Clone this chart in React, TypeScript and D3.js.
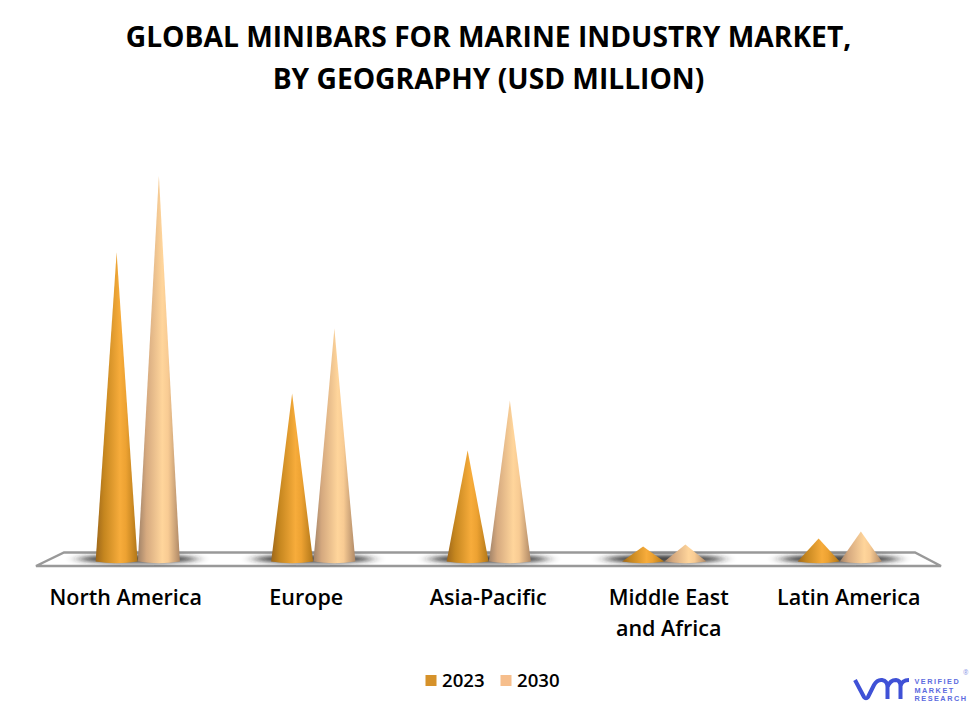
import React from "react";
import * as d3 from "d3";

const categories = ["North America", "Europe", "Asia-Pacific", "Middle East|and Africa", "Latin America"];
const years = ["2023", "2030"];
const values2023 = [309, 168, 111, 15, 23];
const values2030 = [386, 233, 161, 17, 30];
const legendColors = ["#D6922A", "#F6BE8C"];
const gradientStops = [
  ["#9C661A", "#C5861F", "#F7AC3B", "#EDA232", "#B07618"],
  ["#A08268", "#D5A97F", "#FFD59B", "#F8CB93", "#AE8866"],
];
const titleLines = ["GLOBAL MINIBARS FOR MARINE INDUSTRY MARKET,", "BY GEOGRAPHY (USD MILLION)"];
const logoLines = ["VERIFIED", "MARKET", "RESEARCH"];
const labelShift = [-12, -7, -0.5, 4.5, 9];

const W = 977;
const H = 713;
const font = "'Open Sans', 'Noto Sans', sans-serif";

export default function App() {
  const x0 = d3.scaleBand<string>().domain(categories).range([50, 927.5]);
  const x1 = d3.scaleBand<string>().domain(years).range([0, 84.5]);
  const y = d3.scaleLinear().domain([0, 400]).range([561.5, 161.5]);
  const series = [values2023, values2030];
  const halfW = 21;
  const step = x0.step();

  return (
    <svg
      width={W}
      height={H}
      viewBox={`0 0 ${W} ${H}`}
      style={{ position: "absolute", left: 0, top: 0, background: "#fff" }}
    >
      <defs>
        {series.map((_, s) => (
          <linearGradient key={s} id={`cone${s}`} x1="0" x2="1" y1="0" y2="0">
            {gradientStops[s].map((c, i) => (
              <stop key={i} offset={[0, 0.2, 0.58, 0.72, 1][i]} stopColor={c} />
            ))}
          </linearGradient>
        ))}
        <filter id="shadow" x="-30%" y="-200%" width="160%" height="500%">
          <feGaussianBlur stdDeviation="7 2.2" />
        </filter>
      </defs>

      {titleLines.map((t, i) => (
        <text
          key={i}
          x={488.5}
          y={47 + i * 41.5}
          textAnchor="middle"
          fontFamily={font}
          fontWeight={700}
          fontSize={28.2}
          fill="#000"
        >
          {t}
        </text>
      ))}

      <path
        d="M36 566 L64 552.5 L915 552.5 L941 566 Z"
        fill="#fff"
        stroke="#999"
        strokeWidth={2.4}
        strokeLinejoin="miter"
      />

      {categories.map((c) => {
        const gx = (x0(c) as number) + (step - 84.5) / 2;
        return (
          <ellipse
            key={c}
            cx={gx + 42}
            cy={559}
            rx={60}
            ry={4.2}
            fill="#222"
            opacity={0.85}
            filter="url(#shadow)"
          />
        );
      })}

      {categories.map((c, ci) => {
        const gx = (x0(c) as number) + (step - 84.5) / 2;
        return years.map((yr, s) => {
          const cx = gx + (x1(yr) as number) + x1.bandwidth() / 2;
          const top = y(series[s][ci]);
          const base = y(0);
          const d = `M${cx - halfW} ${base} L${cx} ${top} L${cx + halfW} ${base} Q${cx} ${base + 3.4} ${cx - halfW} ${base} Z`;
          return <path key={yr} d={d} fill={`url(#cone${s})`} />;
        });
      })}

      {categories.map((c, ci) => {
        const cx = (x0(c) as number) + step / 2 + labelShift[ci];
        return c.split("|").map((line, i) => (
          <text
            key={line}
            x={cx}
            y={605 + i * 31}
            textAnchor="middle"
            fontFamily={font}
            fontWeight={600}
            fontSize={21.5}
            fill="#000"
          >
            {line}
          </text>
        ));
      })}

      {years.map((yr, i) => {
        const lx = 425.5 + i * 75;
        return (
          <g key={yr}>
            <rect x={lx} y={675} width={11} height={11} fill={legendColors[i]} />
            <text x={lx + 16.5} y={687} fontFamily={font} fontWeight={600} fontSize={18.6} fill="#000">
              {yr}
            </text>
          </g>
        );
      })}

      <path
        d="M855 680 L864 697 Q866 699.5 868 697 L874 685 Q877 679.5 882 680 Q887.5 681 887.5 687 L887.5 699 M887.5 687 Q890 680 896 680 Q900.5 680.5 900.5 686 L900.5 699 M900.5 686 Q902 680 909 680"
        fill="none"
        stroke="#3F51D6"
        strokeWidth={4}
        strokeLinejoin="round"
        strokeLinecap="butt"
      />
      {logoLines.map((t, i) => (
        <text
          key={t}
          x={914.5}
          y={684 + i * 8.5}
          fontFamily="'Liberation Sans', sans-serif"
          fontWeight={700}
          fontSize={7.3}
          letterSpacing={1.5}
          fill="#5C6BE0"
        >
          {t}
        </text>
      ))}
      <text x={963} y={675} fontFamily={font} fontSize={6.5} fill="#8f98e6">
        ®
      </text>
    </svg>
  );
}
